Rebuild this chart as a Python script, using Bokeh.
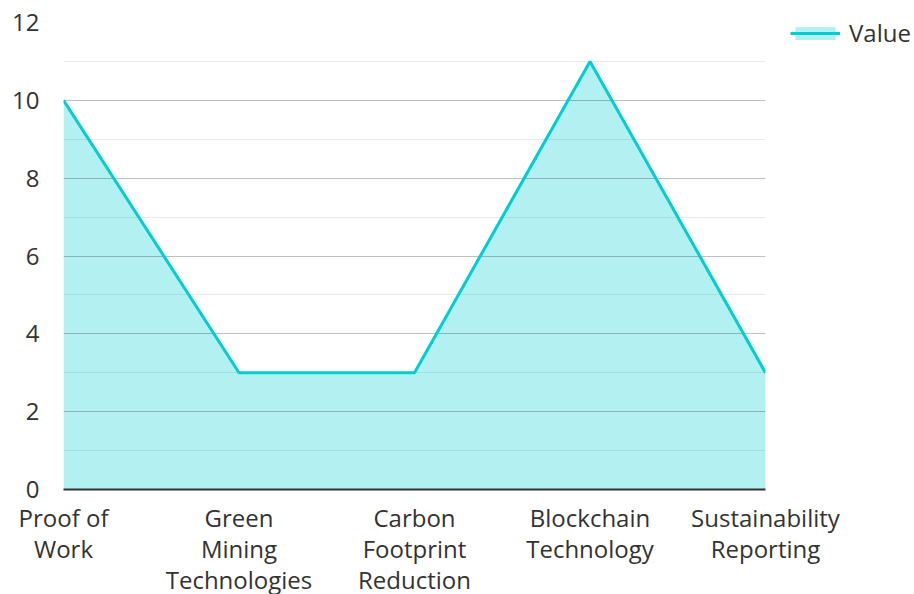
from bokeh.plotting import figure
from bokeh.models import ColumnDataSource, Legend, LegendItem, SingleIntervalTicker, FixedTicker, Range1d
from bokeh.embed import file_html
from bokeh.resources import INLINE

categories = ["Proof of\nWork", "Green\nMining\nTechnologies", "Carbon\nFootprint\nReduction",
              "Blockchain\nTechnology", "Sustainability\nReporting"]
values = [10, 3, 3, 11, 3]
series_name = "Value"

xs = list(range(len(categories)))
src = ColumnDataSource(dict(x=xs, y=values, y0=[0] * len(values)))

FONT = "Open Sans"
p = figure(frame_width=702, frame_height=467, output_backend="svg", toolbar_location=None,
           x_range=Range1d(0, len(categories) - 1), y_range=Range1d(0, 12),
           min_border_left=63, min_border_top=22, min_border_bottom=97, min_border_right=0)
p.outline_line_color = None

area = p.varea(x="x", y1="y0", y2="y", source=src, fill_color="#00CED1", fill_alpha=0.3)
area.level = "image"
line = p.line(x="x", y="y", source=src, line_color="#00CED1", line_width=3)

p.xaxis.ticker = FixedTicker(ticks=xs)
p.xaxis.major_label_overrides = {i: c for i, c in enumerate(categories)}
p.yaxis.ticker = SingleIntervalTicker(interval=2, num_minor_ticks=2)

for ax in (p.xaxis, p.yaxis):
    ax.major_label_text_font = FONT
    ax.major_label_text_font_size = "24px"
    ax.major_label_text_color = "#333333"
    ax.major_tick_line_color = None
    ax.minor_tick_line_color = None
p.xaxis.major_label_text_line_height = 0.95
p.yaxis.axis_line_color = None
p.yaxis.major_label_standoff = 18
p.xaxis.axis_line_color = "#333333"
p.xaxis.axis_line_width = 2
p.xaxis.major_label_standoff = 5

p.xgrid.grid_line_color = None
p.ygrid.grid_line_color = "#000000"
p.ygrid.grid_line_alpha = 0.18
p.ygrid.minor_grid_line_color = "#000000"
p.ygrid.minor_grid_line_alpha = 0.08

legend = Legend(items=[LegendItem(label=series_name, renderers=[area, line])],
                location=(25, 440), glyph_width=50, glyph_height=16,
                label_text_font=FONT, label_text_font_size="24px", label_text_color="#333333",
                border_line_color=None, background_fill_alpha=0, margin=0, padding=0,
                label_standoff=9)
p.add_layout(legend, "right")

open("out.html", "w").write(file_html(p, INLINE))
